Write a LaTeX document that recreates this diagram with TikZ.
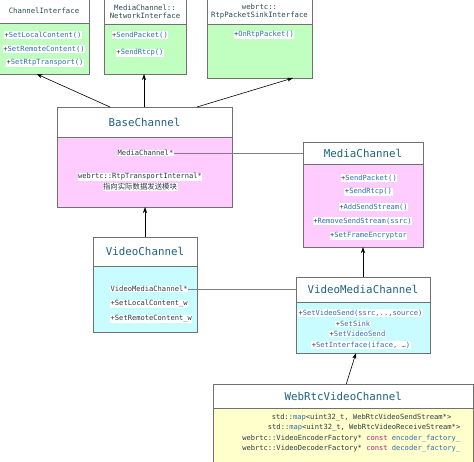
\documentclass[tikz,border=0pt]{standalone}
\usepackage{fontspec}
\setmonofont{DejaVu Sans Mono}
\newfontfamily\cjk{Noto Sans CJK SC}
\usetikzlibrary{positioning,arrows.meta}
\definecolor{bordr}{HTML}{707070}
\definecolor{titlec}{HTML}{1F6080}
\definecolor{mblue}{HTML}{2A6FB5}
\definecolor{ink}{HTML}{2B3A42}
\definecolor{slate}{HTML}{2E4A55}
\definecolor{kwd}{HTML}{B0208F}
\definecolor{greenb}{HTML}{C0FFC0}
\definecolor{pinkb}{HTML}{FFCCFF}
\definecolor{cyanb}{HTML}{C8FCFF}
\definecolor{yellowb}{HTML}{FFFFCC}
\newcommand\plusm[1]{\textcolor{ink}{+}\textcolor{mblue}{#1}}
\tikzset{
  hdr/.style={draw=bordr, fill=white, line width=0.8pt, anchor=north west,
    inner sep=0pt, outer sep=0pt, text=titlec, align=center},
  body/.style={draw=bordr, line width=0.8pt, inner sep=0pt, outer sep=0pt},
  big/.style={font=\ttfamily\fontsize{10.8}{12}\selectfont},
  small/.style={text=slate, font=\ttfamily\fontsize{7.3}{8.4}\selectfont},
  member/.style={fill=white, inner sep=0.5pt, text=ink,
    font=\ttfamily\fontsize{7.1}{8}\selectfont},
  inh/.style={-{Stealth[length=6pt,width=4pt]}, line width=0.6pt},
  link/.style={draw=gray, line width=0.5pt},
}

\begin{document}
\begin{tikzpicture}[x=1pt,y=-1pt]
  \useasboundingbox (0,0) rectangle (474,461);

  \node [hdr, small, minimum width=90pt, minimum height=24pt] (ci-h) at (-1,-1) {ChannelInterface};
  \node [body, fill=greenb, minimum width=90pt, minimum height=51pt, below=0pt of ci-h] (ci-b) {};
  \node [member] (ci-1) at (43,35) {\plusm{SetLocalContent()}};
  \node [member] (ci-2) at (44,49) {\plusm{SetRemoteContent()}};
  \node [member] (ci-3) at (45,63) {\plusm{SetRtpTransport()}};

  \node [hdr, small, minimum width=82pt, minimum height=25pt] (ni-h) at (104,-1) {MediaChannel::\\NetworkInterface};
  \node [body, fill=greenb, minimum width=82pt, minimum height=50pt, below=0pt of ni-h] (ni-b) {};
  \node [member] (ni-1) at (140,35) {\plusm{SendPacket()}};
  \node [member] (ni-2) at (140,53) {\plusm{SendRtcp()}};

  \node [hdr, small, minimum width=105pt, minimum height=25pt] (rs-h) at (207,-1) {webrtc::\\RtpPacketSinkInterface};
  \node [body, fill=greenb, minimum width=105pt, minimum height=54pt, below=0pt of rs-h] (rs-b) {};
  \node [member] (rs-1) at (264,35) {\plusm{OnRtpPacket()}};

  \node [hdr, big, minimum width=175pt, minimum height=30pt] (bc-h) at (57,107) {BaseChannel};
  \node [body, fill=pinkb, minimum width=175pt, minimum height=70pt, below=0pt of bc-h] (bc-b) {};
  \node [member] (bc-1) at (145.5,153) {MediaChannel*};
  \node [member] (bc-2) at (140,177) {webrtc::RtpTransportInternal*};
  \node [member, font=\cjk\fontsize{7.4}{8}\selectfont] (bc-3) at (140,187) {指向实际数据发送模块};

  \node [hdr, big, minimum width=120pt, minimum height=22pt] (mc-h) at (303,142) {MediaChannel};
  \node [body, fill=pinkb, minimum width=120pt, minimum height=83pt, below=0pt of mc-h] (mc-b) {};
  \node [member] (mc-1) at (369,178) {\plusm{SendPacket()}};
  \node [member] (mc-2) at (368.5,192) {\plusm{SendRtcp()}};
  \node [member] (mc-3) at (373.5,207) {\plusm{AddSendStream()}};
  \node [member] (mc-4) at (362.5,221) {\plusm{RemoveSendStream(ssrc)}};
  \node [member] (mc-5) at (368.5,236) {\plusm{SetFrameEncryptor}};

  \node [hdr, big, minimum width=104pt, minimum height=29pt] (vc-h) at (93,237) {VideoChannel};
  \node [body, fill=cyanb, minimum width=104pt, minimum height=66pt, below=0pt of vc-h] (vc-b) {};
  \node [member, anchor=west] (vc-1) at (110,289) {VideoMediaChannel*};
  \node [member, anchor=west] (vc-2) at (110,304) {+SetLocalContent\_w};
  \node [member, anchor=west] (vc-3) at (110,319) {+SetRemoteContent\_w};

  \node [hdr, big, minimum width=134pt, minimum height=25pt] (vmc-h) at (296,277) {VideoMediaChannel};
  \node [body, fill=cyanb, minimum width=134pt, minimum height=51pt, below=0pt of vmc-h] (vmc-b) {};
  \node [member] (vmc-1) at (360.5,313) {\plusm{SetVideoSend(ssrc,..,source)}};
  \node [member] (vmc-2) at (353,324) {\plusm{SetSink}};
  \node [member] (vmc-3) at (357.5,334) {\plusm{SetVideoSend}};
  \node [member] (vmc-4) at (361,345) {\plusm{SetInterface(iface, …)}};

  \node [hdr, big, minimum width=260.5pt, minimum height=24pt] (wvc-h) at (213,384) {WebRtcVideoChannel};
  \node [body, fill=yellowb, minimum width=260.5pt, minimum height=62pt, below=0pt of wvc-h] (wvc-b) {};
  \node [member, anchor=east, fill=none] (wvc-1) at (452,418)
    {std::\textcolor{mblue}{map}<uint32\_t, WebRtcVideoSendStream*>};
  \node [member, anchor=east, fill=none] (wvc-2) at (461,428)
    {std::\textcolor{mblue}{map}<uint32\_t, WebRtcVideoReceiveStream*>};
  \node [member, anchor=east, fill=none] (wvc-3) at (461,439)
    {webrtc::VideoEncoderFactory* \textcolor{kwd}{const} \textcolor{mblue}{encoder\_factory\_}};
  \node [member, anchor=east, fill=none] (wvc-4) at (461,449)
    {webrtc::VideoDecoderFactory* \textcolor{kwd}{const} \textcolor{mblue}{decoder\_factory\_}};

  \draw [inh] ([xshift=-34.5pt]bc-h.north) -- ([xshift=-7.5pt]ci-b.south);
  \draw [inh] ([xshift=-0.5pt]bc-h.north) -- ([xshift=-1pt]ni-b.south);
  \draw [inh] ([xshift=52.5pt]bc-h.north) -- ([xshift=33.5pt]rs-b.south);
  \draw [inh] (vc-h.north) -- ([xshift=0.5pt]bc-b.south);
  \draw [inh] (vmc-h.north) -- (mc-b.south);
  \draw [inh] ([xshift=3pt]wvc-h.north) -- ([xshift=-7pt]vmc-b.south);
  \draw [link] (bc-1.east) -- (mc-h.west |- bc-1.east);
  \draw [link] (vc-1.east) -- (vmc-h.west |- vc-1.east);
\end{tikzpicture}
\end{document}
